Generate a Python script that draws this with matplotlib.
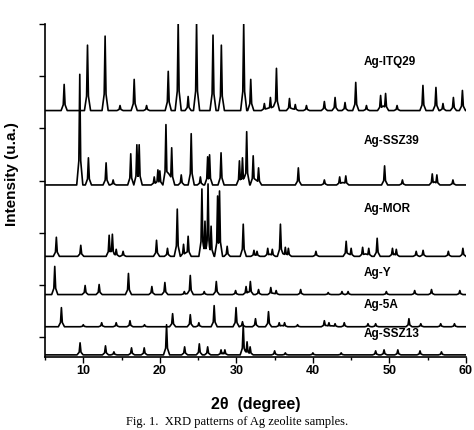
import matplotlib
matplotlib.use("Agg")
import numpy as np
import matplotlib.pyplot as plt
from matplotlib.ticker import MultipleLocator

# ============ peak data (2theta, height in a.u.) ============
itq29_pos = [7.5, 10.55, 12.85, 14.8, 16.65, 18.27, 21.1, 22.4, 23.7, 24.8, 26.95, 28.04,
             30.96, 31.88, 33.66, 34.45, 35.24, 36.94, 37.7, 39.16, 41.5, 42.9, 44.2, 45.6,
             47.0, 48.85, 49.5, 51.0, 54.38, 56.08, 57.0, 58.36, 59.54]
itq29_h = [26, 65, 74, 5, 31, 5, 39, 88, 14, 88, 75, 65,
           86, 31, 7, 13, 42, 12, 6, 5, 9, 13, 8, 28,
           5, 15, 17, 5, 25, 23, 7, 13, 20]

ssz39_pos = [9.54, 10.67, 12.98, 13.9, 16.2, 17.0, 17.3, 19.27, 19.75, 20.0, 20.8, 21.55,
             22.8, 24.1, 25.3, 26.25, 26.5, 28.0, 30.4, 30.8, 31.35, 32.2, 32.9, 38.1,
             41.5, 43.5, 44.3, 49.37, 51.7, 55.6, 56.2, 58.3]
ssz39_h = [110, 27, 22, 5, 31, 40, 40, 8, 15, 14, 60, 37,
           10, 51, 8, 28, 30, 32, 24, 27, 53, 29, 17, 17,
           5, 8, 9, 19, 5, 11, 10, 5]

mor_pos = [6.48, 9.67, 13.38, 13.8, 14.3, 15.2, 19.57, 21.0, 22.28, 23.1, 23.7, 25.5,
           25.9, 26.3, 26.7, 27.55, 27.8, 28.8, 30.9, 32.3, 32.7, 34.1, 34.7, 35.76,
           36.4, 36.8, 40.4, 44.35, 45.0, 46.5, 47.3, 48.4, 50.4, 50.9, 53.5, 54.4,
           57.7, 59.6]
mor_h = [19, 11, 21, 22, 7, 5, 16, 8, 47, 12, 20, 67,
         35, 72, 30, 60, 65, 10, 32, 6, 5, 8, 7, 32,
         9, 8, 5, 15, 8, 9, 8, 18, 8, 7, 5, 6,
         5, 8]

y_pos = [6.27, 10.24, 12.07, 15.9, 18.96, 20.66, 23.2, 23.98, 25.8, 27.38, 29.9, 31.27,
         31.83, 32.9, 34.5, 35.2, 38.4, 42.0, 43.8, 44.6, 49.6, 53.3, 55.5, 59.2]
y_h = [28, 9, 10, 21, 8, 12, 3, 19, 3, 13, 4, 8,
       13, 5, 7, 4, 5, 2, 3, 3, 3, 4, 5, 4]

a5_pos = [7.14, 10.0, 12.4, 14.3, 16.1, 18.0, 21.67, 23.98, 25.1, 27.1, 29.96, 30.8,
          32.5, 34.2, 35.6, 36.3, 38.0, 41.5, 42.1, 42.9, 44.1, 47.2, 48.2, 52.55,
          54.1, 56.7, 58.5]
a5_h = [19, 2, 4, 4, 6, 2, 13, 12, 4, 21, 19, 5,
        8, 15, 4, 4, 2, 6, 4, 3, 4, 3, 3, 8,
        3, 3, 3]

ssz13_pos = [9.58, 12.9, 14.0, 16.3, 17.96, 20.88, 23.24, 25.16, 26.25, 28.0, 28.5, 30.9,
             31.4, 31.8, 35.0, 36.4, 40.0, 43.7, 48.2, 49.3, 51.1, 54.0, 56.8]
ssz13_h = [12, 9, 3, 7, 7, 30, 8, 11, 8, 5, 5, 30,
           13, 8, 4, 2, 2, 2, 4, 5, 5, 4, 3]

names = ["Ag-ITQ29", "Ag-SSZ39", "Ag-MOR", "Ag-Y", "Ag-5A", "Ag-SSZ13"]
offsets = [245, 171, 100, 62, 30, 2]          # vertical stacking
label_y = [293, 215, 147, 83, 52, 23]
# =================================================================================

patterns = [(itq29_pos, itq29_h), (ssz39_pos, ssz39_h), (mor_pos, mor_h),
            (y_pos, y_h), (a5_pos, a5_h), (ssz13_pos, ssz13_h)]


def trace(pos, hts, base, w=0.4, x0=5.0, x1=60.0):
    # polyline: baseline -> shoulder -> apex -> shoulder -> baseline for every peak
    sh = 0.3 * w
    xs, ys = [x0], [base]
    for i, (p, h) in enumerate(zip(pos, hts)):
        if xs[-1] < p - w:
            xs.append(p - w); ys.append(base)
        if xs[-1] < p - sh:
            xs.append(p - sh); ys.append(base + 0.22 * h)
        xs.append(p); ys.append(base + h)
        nxt = pos[i + 1] if i + 1 < len(pos) else x1 + w
        mid = (p + nxt) / 2
        if p + sh < mid:
            xs.append(p + sh); ys.append(base + 0.22 * h)
        if p + w < nxt - w:
            xs.append(p + w); ys.append(base)
        elif i + 1 < len(pos):
            xs.append(mid); ys.append(base + 0.3 * min(h, hts[i + 1]))
    xs.append(x1); ys.append(base)
    return np.array(xs), np.array(ys)


plt.rcParams['font.family'] = ['Liberation Sans', 'DejaVu Sans']
fig = plt.figure(figsize=(4.74, 4.30), dpi=100)
ax = fig.add_axes([0.095, 0.170, 0.888, 0.774])

for (pos, hts), off in zip(patterns, offsets):
    x, y = trace(pos, hts, off)
    ax.plot(x, y, color="black", lw=1.2, solid_joinstyle="round")

for name, ly in zip(names, label_y):
    ax.text(46.6, ly, name, fontsize=8.5, fontweight="bold", va="center", ha="left")

ax.set_xlim(5, 60)
ax.set_ylim(0, 331)
ax.set_yticks(np.arange(20, 332, 51.8))
ax.set_yticklabels([])
ax.xaxis.set_major_locator(MultipleLocator(10))
ax.xaxis.set_minor_locator(MultipleLocator(5))
ax.tick_params(axis="x", which="major", direction="out", length=4, width=1,
               labelsize=9, pad=2)
ax.tick_params(axis="x", which="minor", direction="out", length=2.5, width=1)
ax.tick_params(axis="y", direction="out", length=4, width=1)
for lab in ax.get_xticklabels():
    lab.set_fontweight("bold")

for s in ["top", "right"]:
    ax.spines[s].set_visible(False)
for s in ["left", "bottom"]:
    ax.spines[s].set_linewidth(1.2)

ax.set_xlabel("2\u03b8  (degree)", fontsize=11.5, fontweight="bold")
ax.xaxis.set_label_coords(0.5, -0.12)
ax.set_ylabel("Intensity (u.a.)", fontsize=11, fontweight="bold")
ax.yaxis.set_label_coords(-0.062, 0.55)

fig.text(0.5, 0.004, "Fig. 1.  XRD patterns of Ag zeolite samples.", ha="center",
         va="bottom", fontsize=9, family=["Liberation Serif", "DejaVu Serif"])

fig.savefig("out.png", dpi=100)
